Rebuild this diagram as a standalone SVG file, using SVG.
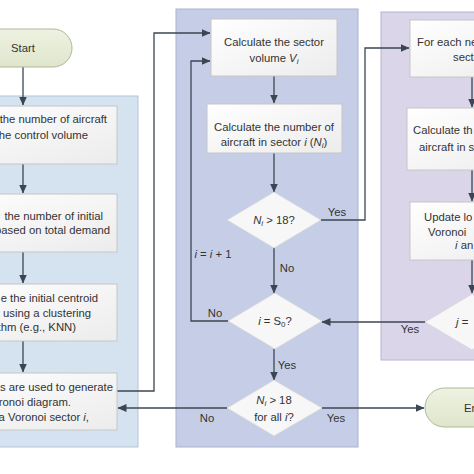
<svg xmlns="http://www.w3.org/2000/svg" width="474" height="474" viewBox="0 0 474 474">
<defs>
<linearGradient id="boxg" x1="0" y1="0" x2="1" y2="1">
<stop offset="0" stop-color="#ffffff"/>
<stop offset="1" stop-color="#ececec"/>
</linearGradient>
<linearGradient id="termg" x1="0" y1="0" x2="0" y2="1">
<stop offset="0" stop-color="#eef2e2"/>
<stop offset="1" stop-color="#dfe6cc"/>
</linearGradient>
<marker id="ah" markerUnits="userSpaceOnUse" markerWidth="9" markerHeight="8" refX="8.5" refY="4" orient="auto">
<path d="M0,0 L9,4 L0,8 z" fill="#3c4653"/>
</marker>
</defs>
<style>
text{font-family:"Liberation Sans",Arial,sans-serif;font-size:11.3px;fill:#333;}
.box{fill:url(#boxg);stroke:#c6c6c6;stroke-width:1;}
.dia{fill:#f7f7f7;stroke:#d6d6d6;stroke-width:0.8;}
.term{fill:url(#termg);stroke:#aeb896;stroke-width:1;}
.c{text-anchor:middle;}
.e{text-anchor:end;}
.it{font-style:italic;}
.sub{font-size:8px;}
#connectors path{fill:none;stroke:#3c4653;stroke-width:1.3;}
</style>
<rect width="474" height="474" fill="#ffffff"/>
<!-- panels -->
<rect x="-10" y="96" width="148" height="351" fill="#d4e3ef" stroke="#b3c6d8" stroke-width="1"/>
<rect x="176" y="9" width="182" height="438" fill="#c6cee7" stroke="#a9b3cf" stroke-width="1"/>
<rect x="381" y="12" width="110" height="348" fill="#dbd5ea" stroke="#bab2cf" stroke-width="1"/>

<g id="connectors">
<path d="M23,67 V105" marker-end="url(#ah)"/>
<path d="M23,164 V193" marker-end="url(#ah)"/>
<path d="M23,252 V283" marker-end="url(#ah)"/>
<path d="M23,341 V372" marker-end="url(#ah)"/>
<path d="M117,391 H154 V33 H210" marker-end="url(#ah)"/>
<path d="M274,76 V103" marker-end="url(#ah)"/>
<path d="M274,153 V192" marker-end="url(#ah)"/>
<path d="M274,248 V293" marker-end="url(#ah)"/>
<path d="M274,349 V380" marker-end="url(#ah)"/>
<path d="M228,321 H191 V61 H210" marker-end="url(#ah)"/>
<path d="M321,220 H365 V48 H409" marker-end="url(#ah)"/>
<path d="M472,77 V107" marker-end="url(#ah)"/>
<path d="M472,170 V201" marker-end="url(#ah)"/>
<path d="M472,260 V293" marker-end="url(#ah)"/>
<path d="M425,322 H322" marker-end="url(#ah)"/>
<path d="M227,408 H118" marker-end="url(#ah)"/>
<path d="M322,408 H424" marker-end="url(#ah)"/>
</g>

<g id="start">
<rect class="term" x="-26" y="29" width="98" height="38" rx="19"/>
<text class="c" x="23" y="52">Start</text>
</g>
<g id="count">
<rect class="box" x="-80" y="106" width="197" height="58"/>
<text class="e" x="107" y="123">the number of aircraft</text>
<text class="e" x="88" y="139">in the control volume</text>
</g>
<g id="initial">
<rect class="box" x="-80" y="194" width="197" height="58"/>
<text class="e" x="103" y="220">the number of initial</text>
<text class="e" x="110" y="234">based on total demand</text>
</g>
<g id="centroid">
<rect class="box" x="-80" y="284" width="197" height="57"/>
<text class="e" x="98" y="302">e the initial centroid</text>
<text class="e" x="91" y="317">s using a clustering</text>
<text class="e" x="76" y="331">algorithm (e.g., KNN)</text>
</g>
<g id="voronoi">
<rect class="box" x="-80" y="373" width="197" height="57"/>
<text class="e" x="113" y="391">s are used to generate</text>
<text class="e" x="71" y="406">Voronoi diagram.</text>
<text class="e" x="89" y="421">a Voronoi sector <tspan class="it">i</tspan>,</text>
</g>

<g id="volume">
<rect class="box" x="211" y="19" width="126" height="57"/>
<text class="c" x="274" y="46">Calculate the sector</text>
<text class="c" x="274" y="62">volume <tspan class="it">V</tspan><tspan class="it sub" dy="2">i</tspan></text>
</g>
<g id="numsector">
<rect class="box" x="207" y="104" width="135" height="49"/>
<text class="c" x="274" y="131">Calculate the number of</text>
<text class="c" x="274" y="146">aircraft in sector <tspan class="it">i</tspan> (<tspan class="it">N</tspan><tspan class="it sub" dy="2">i</tspan><tspan dy="-2">)</tspan></text>
</g>
<g id="d1">
<polygon class="dia" points="274,192 321,220 274,248 227,220"/>
<text class="c" x="274" y="224"><tspan class="it">N</tspan><tspan class="it sub" dy="2">i</tspan><tspan dy="-2"> &gt; 18?</tspan></text>
</g>
<g id="d2">
<polygon class="dia" points="275,293 322,321 275,349 228,321"/>
<text class="c" x="275" y="325"><tspan class="it">i</tspan> = S<tspan class="sub" dy="2">0</tspan><tspan dy="-2">?</tspan></text>
</g>
<g id="d3">
<polygon class="dia" points="274,380 322,408 274,436 227,408"/>
<text class="c" x="274" y="404"><tspan class="it">N</tspan><tspan class="it sub" dy="2">i</tspan><tspan dy="-2"> &gt; 18</tspan></text>
<text class="c" x="274" y="421">for all <tspan class="it">i</tspan>?</text>
</g>

<g id="foreach">
<rect class="box" x="410" y="20" width="124" height="57"/>
<text x="417" y="46">For each new</text>
<text x="453" y="61">sector</text>
</g>
<g id="calcr">
<rect class="box" x="407" y="108" width="130" height="62"/>
<text x="413" y="134">Calculate th</text>
<text x="419" y="151">aircraft in s</text>
</g>
<g id="update">
<rect class="box" x="410" y="202" width="124" height="58"/>
<text x="424" y="221">Update lo</text>
<text x="428" y="236">Voronoi</text>
<text x="455" y="249"><tspan class="it">i</tspan> an</text>
</g>
<g id="d4">
<polygon class="dia" points="472,294 519,322 472,350 425,322"/>
<text x="456" y="326"><tspan class="it">j</tspan> =</text>
</g>
<g id="end">
<rect class="term" x="425" y="388" width="100" height="39" rx="19.5"/>
<text x="464" y="412">End</text>
</g>

<g id="labels">
<text class="c" x="337" y="216">Yes</text>
<text class="c" x="287" y="272">No</text>
<text class="c" x="213" y="258"><tspan class="it">i</tspan> = <tspan class="it">i</tspan> + 1</text>
<text class="c" x="215" y="317">No</text>
<text class="c" x="287" y="369">Yes</text>
<text class="c" x="410" y="333">Yes</text>
<text class="c" x="207" y="422">No</text>
<text class="c" x="336" y="422">Yes</text>
</g>
</svg>
